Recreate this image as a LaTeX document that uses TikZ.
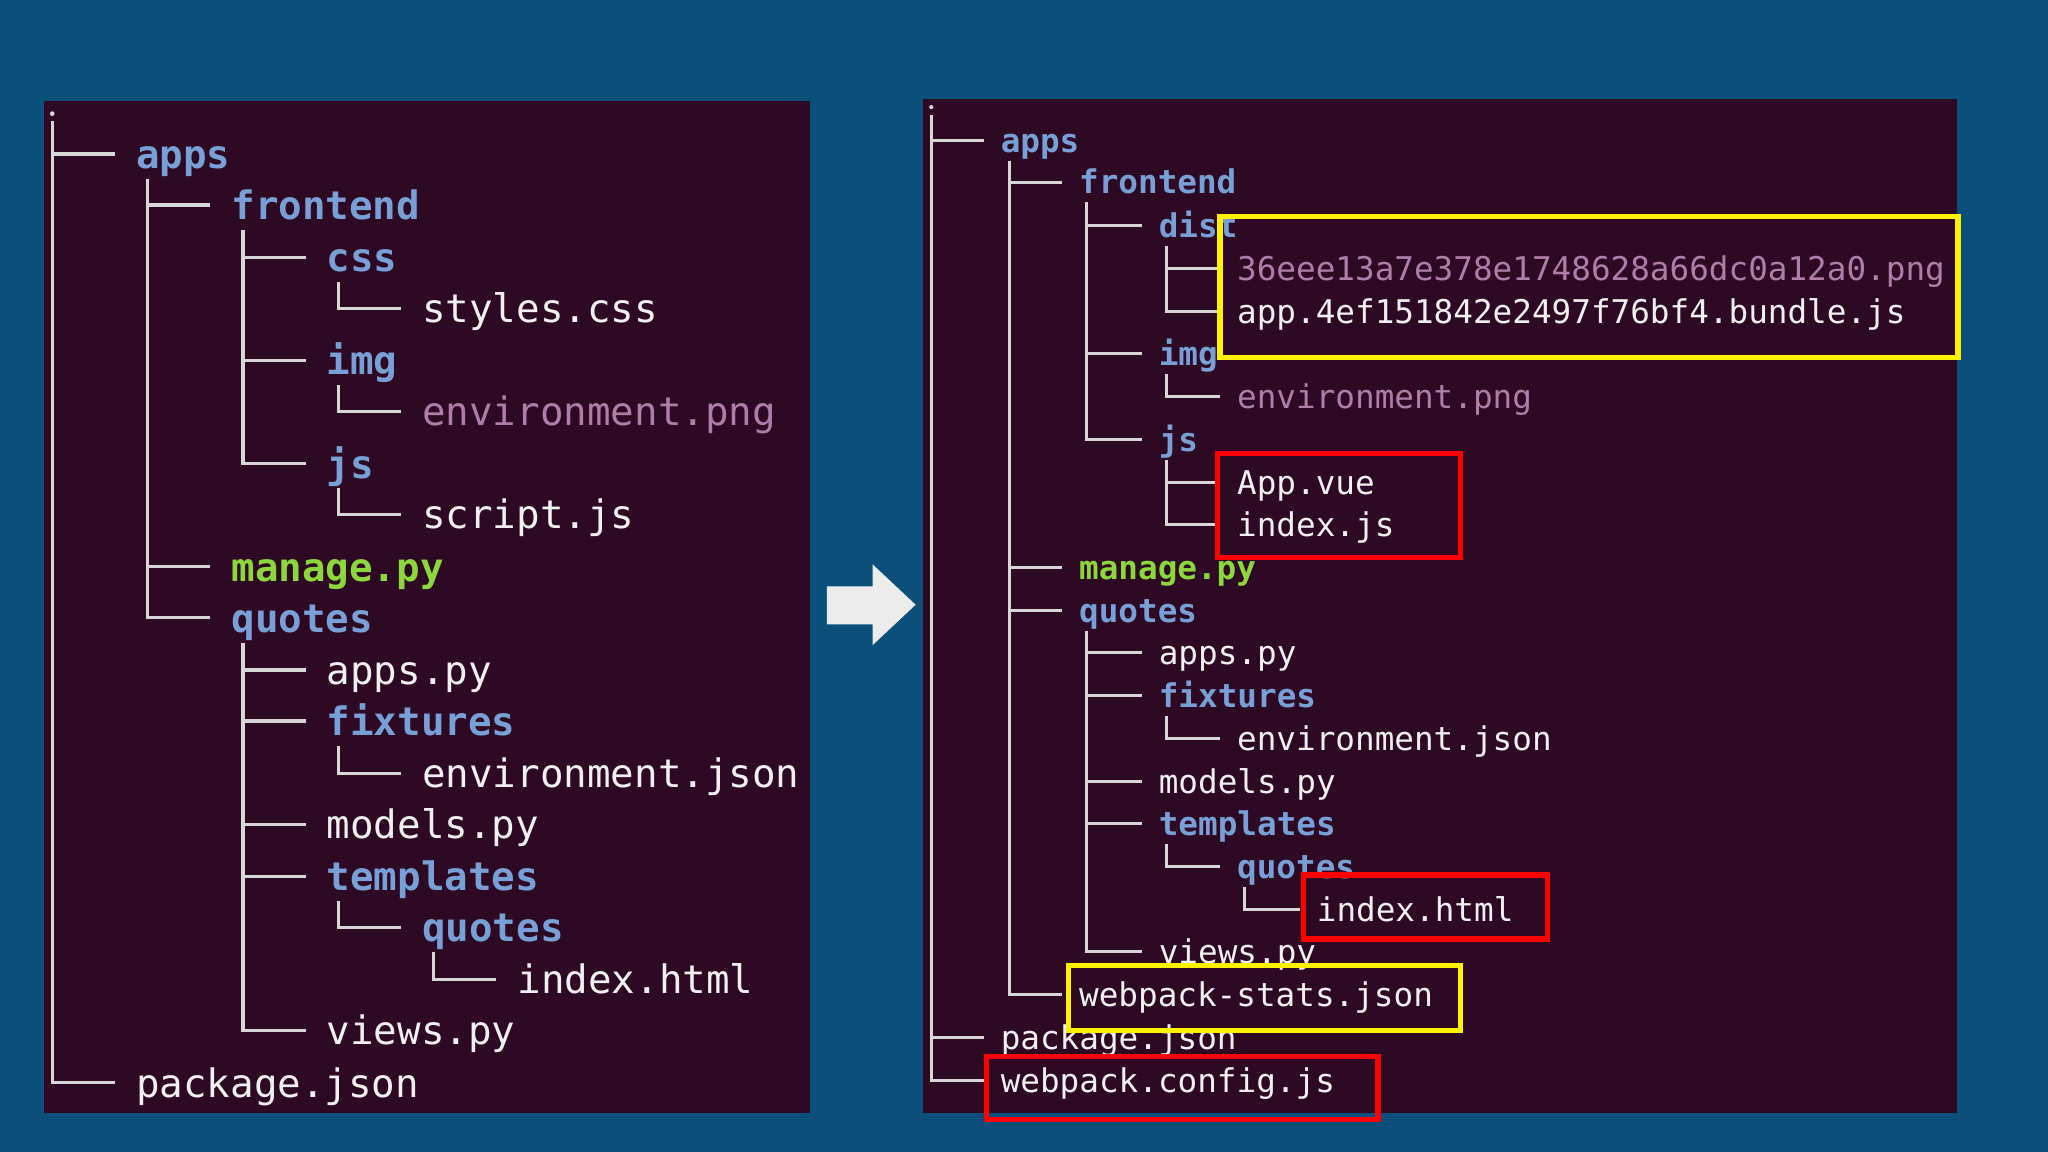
\documentclass[tikz,border=0pt]{standalone}
\usepackage{fontspec}
\setmonofont{DejaVu Sans Mono}
\definecolor{bgc}{RGB}{10,80,122}
\definecolor{term}{RGB}{46,9,36}
\definecolor{dirc}{RGB}{120,160,215}
\definecolor{pngc}{RGB}{175,125,170}
\definecolor{pyc}{RGB}{140,215,60}
\definecolor{filc}{RGB}{240,240,240}
\definecolor{linec}{RGB}{215,215,215}
\tikzset{
  t/.style={anchor=base west,inner sep=0pt,text=filc,yshift=-10pt,font=\ttfamily\fontsize{30}{30}\selectfont},
  tr/.style={anchor=base west,inner sep=0pt,text=filc,yshift=-8.5pt,font=\ttfamily\fontsize{25}{25}\selectfont},
  dirn/.style={text=dirc,font=\ttfamily\bfseries\fontsize{30}{30}\selectfont},
  dirr/.style={text=dirc,font=\ttfamily\bfseries\fontsize{25}{25}\selectfont},
  pyn/.style={text=pyc,font=\ttfamily\bfseries\fontsize{30}{30}\selectfont},
  pyr/.style={text=pyc,font=\ttfamily\bfseries\fontsize{25}{25}\selectfont},
  pngn/.style={text=pngc},
  tree/.style={draw=linec,line width=2.5pt},
  ybox/.style={draw=yellow,line width=4pt},
  rbox/.style={draw=red,line width=4pt},
}
\newcommand\connL[3]{\draw[tree] (#1,#2) |- ([xshift=-16pt,yshift=11pt]#3.base west);}
\newcommand\connR[3]{\draw[tree] (#1,#2) |- ([xshift=-13pt,yshift=9pt]#3.base west);}
\begin{document}
\begin{tikzpicture}[x=1pt,y=-1pt]
\fill[bgc] (0,0) rectangle (1568,882);
\useasboundingbox (0,0) rectangle (1568,882);
\fill[term] (34,77) rectangle (620,852);
\fill[term] (707,76) rectangle (1498,852);
% left
\node[t,dirn] (l1) at (104,119) {apps};
\node[t,dirn] (l2) at (177,158) {frontend};
\node[t,dirn] (l3) at (250,198) {css};
\node[t] (l4) at (323,237) {styles.css};
\node[t,dirn] (l5) at (250,277) {img};
\node[t,pngn] (l6) at (323,316) {environment.png};
\node[t,dirn] (l7) at (250,356) {js};
\node[t] (l8) at (323,395) {script.js};
\node[t,pyn] (l9) at (177,435) {manage.py};
\node[t,dirn] (l10) at (177,474) {quotes};
\node[t] (l11) at (250,514) {apps.py};
\node[t,dirn] (l12) at (250,553) {fixtures};
\node[t] (l13) at (323,593) {environment.json};
\node[t] (l14) at (250,632) {models.py};
\node[t,dirn] (l15) at (250,672) {templates};
\node[t,dirn] (l16) at (323,711) {quotes};
\node[t] (l17) at (396,751) {index.html};
\node[t] (l18) at (250,790) {views.py};
\node[t] (l19) at (104,830) {package.json};
\fill[linec] (40,87) circle (1.8);
\connL{40}{93}{l1}\connL{40}{93}{l19}
\connL{113}{137}{l2}\connL{113}{137}{l9}\connL{113}{137}{l10}
\connL{186}{176}{l3}\connL{186}{176}{l5}\connL{186}{176}{l7}
\connL{259}{216}{l4}\connL{259}{295}{l6}\connL{259}{374}{l8}
\connL{186}{492}{l11}\connL{186}{492}{l12}\connL{186}{492}{l14}\connL{186}{492}{l15}\connL{186}{492}{l18}
\connL{259}{571}{l13}\connL{259}{690}{l16}\connL{332}{729}{l17}
% arrow
\fill[white!85!gray] (633,449) -- (668,449) -- (668,432) -- (701,463) -- (668,494) -- (668,478) -- (633,478) -- cycle;
% right
\node[tr,dirr] (r1) at (766,108) {apps};
\node[tr,dirr] (r2) at (826,140) {frontend};
\node[tr,dirr] (r3) at (887,173) {dist};
\node[tr,pngn] (r4) at (947,206) {36eee13a7e378e1748628a66dc0a12a0.png};
\node[tr] (r5) at (947,239) {app.4ef151842e2497f76bf4.bundle.js};
\node[tr,dirr] (r6) at (887,271) {img};
\node[tr,pngn] (r7) at (947,304) {environment.png};
\node[tr,dirr] (r8) at (887,337) {js};
\node[tr] (r9) at (947,370) {App.vue};
\node[tr] (r10) at (947,402) {index.js};
\node[tr,pyr] (r11) at (826,435) {manage.py};
\node[tr,dirr] (r12) at (826,468) {quotes};
\node[tr] (r13) at (887,500) {apps.py};
\node[tr,dirr] (r14) at (887,533) {fixtures};
\node[tr] (r15) at (947,566) {environment.json};
\node[tr] (r16) at (887,599) {models.py};
\node[tr,dirr] (r17) at (887,631) {templates};
\node[tr,dirr] (r18) at (947,664) {quotes};
\node[tr] (r19) at (1008,697) {index.html};
\node[tr] (r20) at (887,729) {views.py};
\node[tr] (r21) at (826,762) {webpack-stats.json};
\node[tr] (r22) at (766,795) {package.json};
\node[tr] (r23) at (766,828) {webpack.config.js};
\fill[linec] (713,82) circle (1.6);
\connR{713}{88}{r1}\connR{713}{88}{r22}\connR{713}{88}{r23}
\connR{773}{123}{r2}\connR{773}{123}{r11}\connR{773}{123}{r12}\connR{773}{123}{r21}
\connR{832}{155}{r3}\connR{832}{155}{r6}\connR{832}{155}{r8}
\connR{893}{188}{r4}\connR{893}{188}{r5}\connR{893}{286}{r7}
\connR{893}{352}{r9}\connR{893}{352}{r10}
\connR{832}{483}{r13}\connR{832}{483}{r14}\connR{832}{483}{r16}\connR{832}{483}{r17}\connR{832}{483}{r20}
\connR{893}{548}{r15}\connR{893}{646}{r18}\connR{953}{679}{r19}
% highlight boxes
\draw[ybox] (934,166) rectangle (1499,274);
\draw[ybox] (818,739) rectangle (1118,789);
\draw[rbox] (932,347) rectangle (1118,427);
\draw[rbox] (998,670) rectangle (1185,719);
\draw[rbox] (755,809) rectangle (1055,857);
\end{tikzpicture}
\end{document}
